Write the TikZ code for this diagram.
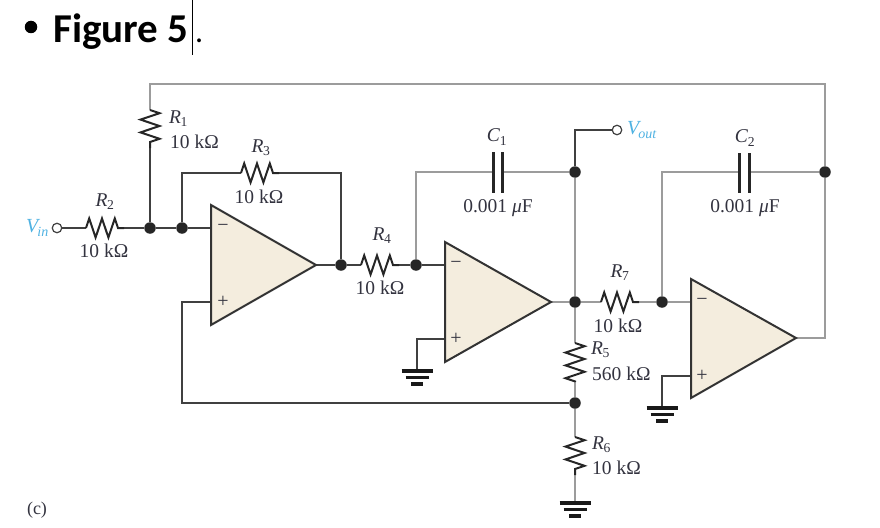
\documentclass[tikz,border=0pt]{standalone}
\usepackage{fontspec}
\setmainfont{Liberation Serif}
\newfontfamily\headfont{Carlito}
\usetikzlibrary{decorations.pathmorphing,calc}
\definecolor{wiredark}{HTML}{404040}
\definecolor{wirelight}{HTML}{9C9C9C}
\definecolor{opfill}{HTML}{F4EDDE}
\definecolor{labelc}{HTML}{33333F}
\definecolor{vblue}{HTML}{4FB2E2}
\newcommand{\Rlab}[1]{{\itshape R}\kern-0.5pt\textsubscript{#1}}
\newcommand{\Vlab}[1]{{\itshape V\kern-1pt\textsubscript{#1}}}
\newcommand{\kohm}[1]{#1 kΩ}
\tikzset{
  x=1pt,y=-1pt,
  wire/.style={draw=wiredark,line width=1.5pt},
  wirel/.style={draw=wirelight,line width=1.8pt},
  resbody/.style={draw=black!85,line width=2pt,line join=miter,decorate,decoration={zigzag,segment length=12.8pt,amplitude=9.5pt}},
  dot/.style={circle,fill=black!85,draw=none,minimum size=11.5pt,inner sep=0pt},
  term/.style={circle,fill=white,draw=wiredark,line width=1.2pt,minimum size=9.5pt,inner sep=0pt},
  lab/.style={text=labelc,font=\fontsize{19.5}{20}\selectfont,inner sep=0pt},
  vlab/.style={text=vblue,font=\fontsize{20}{20}\selectfont,inner sep=0pt},
  opamp/.style={draw=black!80,fill=opfill,line width=2pt,line join=miter},
  plate/.style={draw=black!85,line width=3pt},
  gbar/.style={draw=black!90,line width=3.4pt},
  pinlab/.style={text=labelc,font=\fontsize{20}{20}\selectfont,inner sep=0pt},
}
\begin{document}
\begin{tikzpicture}
\useasboundingbox (0,0) rectangle (880,527);
% heading
\node[anchor=base west,inner sep=0pt,font=\headfont\bfseries\fontsize{41}{44}\selectfont] (hd) at (53,43) {Figure 5};
\node[anchor=base west,inner sep=0pt,font=\headfont\fontsize{32}{40}\selectfont] (per) at (195,43) {.};
\node[circle,fill=black,minimum size=12.5pt,inner sep=0pt] (bul) at (31,27) {};
\coordinate (curA) at (192.5,0); \coordinate (curB) at (192.5,55);
\draw[black,line width=1pt] (curA) -- (curB);
\node[lab,font=\fontsize{18}{20}\selectfont] (clab) at (37,510) {(c)};
% junctions and terminals
\node[term] (vin) at (57,228) {};
\node[term] (vout) at (617,130) {};
\node[dot] (j1) at (150,228) {};
\node[dot] (j2) at (182,228) {};
\node[dot] (j3) at (341,265) {};
\node[dot] (j4) at (416,265) {};
\node[dot] (j5) at (575,172) {};
\node[dot] (j6) at (575,302) {};
\node[dot] (j7) at (662,302) {};
\node[dot] (j8) at (825,172) {};
\node[dot] (j9) at (575,403) {};
% op amps
\coordinate (a1t) at (211,205); \coordinate (a1b) at (211,325); \coordinate (a1o) at (316,265);
\coordinate (a1m) at (211,228); \coordinate (a1p) at (211,302);
\coordinate (a2t) at (445,242); \coordinate (a2b) at (445,362); \coordinate (a2o) at (551,302);
\coordinate (a2m) at (445,265); \coordinate (a2p) at (445,339);
\coordinate (a3t) at (691,279); \coordinate (a3b) at (691,398); \coordinate (a3o) at (796,338);
\coordinate (a3m) at (691,302); \coordinate (a3p) at (691,376);
% resistor ends
\coordinate (r1a) at (150,110); \coordinate (r1b) at (150,148);
\coordinate (r2a) at (86,228); \coordinate (r2b) at (124,228);
\coordinate (r3a) at (241,173); \coordinate (r3b) at (279,173);
\coordinate (r4a) at (361,265); \coordinate (r4b) at (399,265);
\coordinate (r5a) at (575,343); \coordinate (r5b) at (575,382);
\coordinate (r6a) at (575,437); \coordinate (r6b) at (575,475);
\coordinate (r7a) at (601,302); \coordinate (r7b) at (639,302);
% capacitor centres
\coordinate (c1a) at (493,172); \coordinate (c1b) at (502,172);
\coordinate (c2a) at (739,172); \coordinate (c2b) at (749,172);
% grounds
\coordinate (g1) at (417,371); \coordinate (g2) at (662,408); \coordinate (g3) at (575,503);
\coordinate (top) at (150,84); \coordinate (fb) at (182,403);
% wires
\draw[wirel] (j5) -- (c1b);
\draw[wirel] (c1a) -| (j4);
\draw[wirel] (j7) |- (c2a);
\draw[wirel] (c2b) -- (j8);
\draw[wirel] (a3o) -| (j8);
\draw[wirel] (j8) |- (top) -- (r1a);
\draw[wirel] (a2o) -- (j6) -- (r7a);
\draw[wirel] (r7b) -- (j7) -- (a3m);
\draw[wirel] (j5) -- (j6) -- (r5a);
\draw[wirel] (r5b) -- (j9) -- (r6a);
\draw[wirel] (r6b) -- (g3);
\draw[wire] (j5) |- (vout);
\draw[wire] (r1b) -- (j1);
\draw[wire] (vin) -- (r2a);
\draw[wire] (r2b) -- (j1) -- (j2) -- (a1m);
\draw[wire] (j2) |- (r3a);
\draw[wire] (r3b) -| (j3);
\draw[wire] (a1o) -- (j3) -- (r4a);
\draw[wire] (r4b) -- (j4) -- (a2m);
\draw[wire] (a1p) -| (fb) -- (j9);
\draw[wire] (a2p) -| (g1);
\draw[wire] (a3p) -| (g2);
% op-amp bodies
\draw[opamp] (a1t) -- (a1o) -- (a1b) -- cycle;
\draw[opamp] (a2t) -- (a2o) -- (a2b) -- cycle;
\draw[opamp] (a3t) -- (a3o) -- (a3b) -- cycle;
\node[pinlab] (a1mn) at (223,228) {−};
\node[pinlab] (a1pl) at (223,302) {+};
\node[pinlab] (a2mn) at (456,265) {−};
\node[pinlab] (a2pl) at (456,339) {+};
\node[pinlab] (a3mn) at (702,302) {−};
\node[pinlab] (a3pl) at (702,376) {+};
% resistors
\draw[resbody] (r1a) -- (r1b);
\draw[resbody] (r2a) -- (r2b);
\draw[resbody] (r3a) -- (r3b);
\draw[resbody] (r4a) -- (r4b);
\draw[resbody] (r5a) -- (r5b);
\draw[resbody] (r6a) -- (r6b);
\draw[resbody] (r7a) -- (r7b);
% capacitors
\draw[plate] ($(c1a)+(0,-20)$) -- ($(c1a)+(0,21)$);
\draw[plate] ($(c1b)+(0,-20)$) -- ($(c1b)+(0,21)$);
\draw[plate] ($(c2a)+(0,-19)$) -- ($(c2a)+(0,21)$);
\draw[plate] ($(c2b)+(0,-19)$) -- ($(c2b)+(0,21)$);
% ground bars
\foreach \g in {g1,g2,g3}{
  \draw[gbar] ($(\g)+(-15.5,0)$) -- ($(\g)+(15.5,0)$);
  \draw[gbar] ($(\g)+(-11.5,6.5)$) -- ($(\g)+(11.5,6.5)$);
  \draw[gbar] ($(\g)+(-6,13)$) -- ($(\g)+(6,13)$);
}
% labels
\node[vlab,anchor=east] (vinl) at (49,228) {\Vlab{in}};
\node[vlab,anchor=west] (voutl) at (627,130) {\Vlab{out}};
\node[lab,anchor=west] (r1n) at (169,119) {\Rlab{1}};
\node[lab,anchor=west] (r1v) at (170,142) {\kohm{10}};
\node[lab] (r3n) at (261,148) {\Rlab{3}};
\node[lab] (r3v) at (259,197) {\kohm{10}};
\node[lab] (r2n) at (105,202) {\Rlab{2}};
\node[lab] (r2v) at (104,251) {\kohm{10}};
\node[lab] (r4n) at (382,236) {\Rlab{4}};
\node[lab] (r4v) at (380,288) {\kohm{10}};
\node[lab] (c1n) at (497,137) {{\itshape C}\textsubscript{1}};
\node[lab] (c1v) at (498,208) {0.001 {\itshape μ}F};
\node[lab] (c2n) at (745,138) {{\itshape C}\textsubscript{2}};
\node[lab] (c2v) at (745,208) {0.001 {\itshape μ}F};
\node[lab] (r7n) at (620,273) {\Rlab{7}};
\node[lab] (r7v) at (618,326) {\kohm{10}};
\node[lab,anchor=west] (r5n) at (591,350) {\Rlab{5}};
\node[lab,anchor=west] (r5v) at (592,374) {\kohm{560}};
\node[lab,anchor=west] (r6n) at (592,445) {\Rlab{6}};
\node[lab,anchor=west] (r6v) at (592,468) {\kohm{10}};
\end{tikzpicture}
\end{document}
